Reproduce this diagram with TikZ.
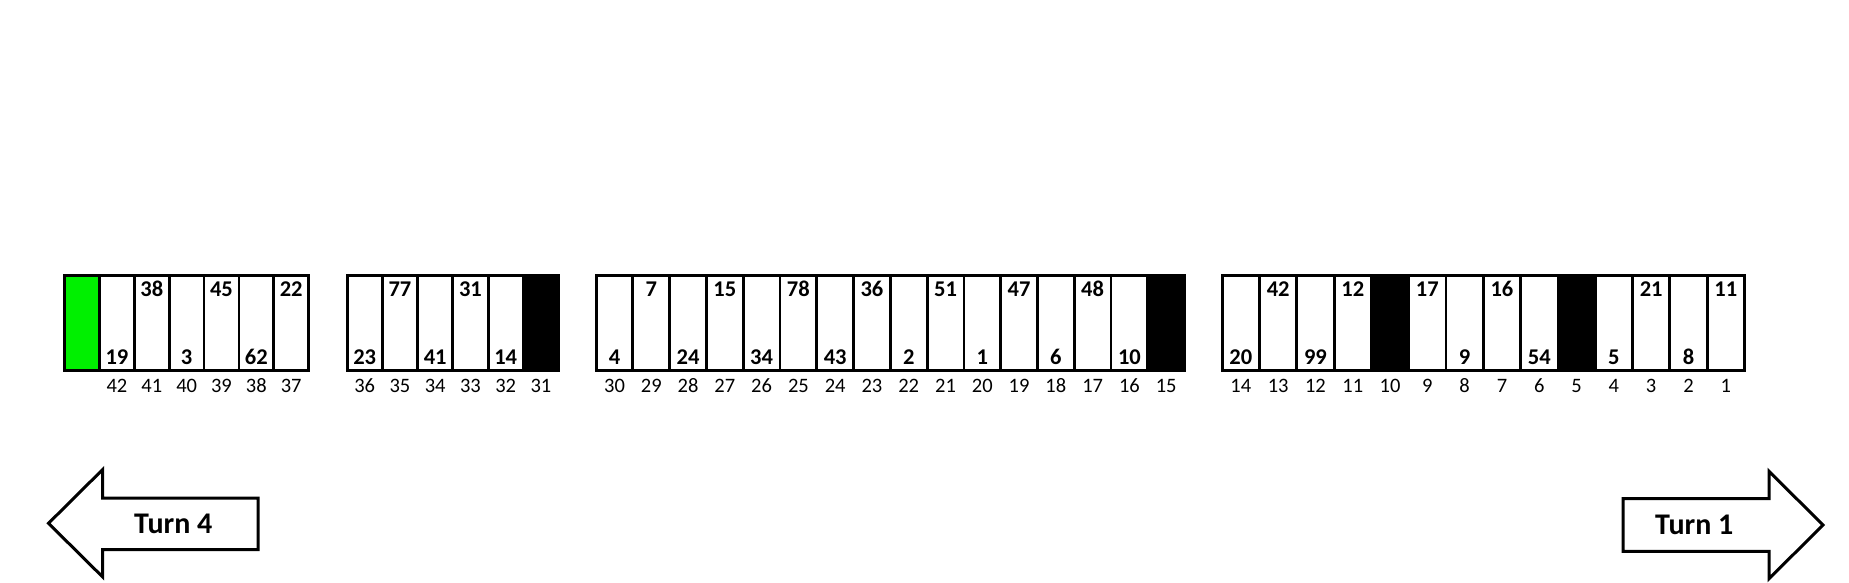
\documentclass[tikz,border=0pt]{standalone}
\usepackage{fontspec}
\setmainfont{Carlito}
\definecolor{pitgreen}{RGB}{0,240,0}
\begin{document}
\begin{tikzpicture}[x=1pt,y=-1pt,
  cell/.style={draw=black,line width=2.8pt},
  blackcell/.style={fill=black},
  greencell/.style={fill=pitgreen},
  num/.style={font=\bfseries\fontsize{22.5}{26}\selectfont,anchor=base,inner sep=0pt},
  lbl/.style={font=\fontsize{20.5}{24}\selectfont,anchor=base,inner sep=0pt},
  turn/.style={font=\bfseries\fontsize{30}{34}\selectfont,anchor=base,inner sep=0pt},
  arrowshape/.style={draw=black,line width=3pt,line join=miter,fill=white}]
\useasboundingbox (0,0) rectangle (1849,582);
\def\myytop{275.4}
\def\myh{95.2}
\def\mytt{296.9}
\def\mytb{364.5}
\def\mytl{392}
% ---------- Group 1 ----------
\def\myxa{64.7}\def\mywa{34.84}
\fill[greencell] (\myxa,\myytop) rectangle ++(\mywa,\myh);
\foreach \i in {0,...,6} \draw[cell] ({\myxa+\i*\mywa},\myytop) rectangle ++(\mywa,\myh);
\foreach \c/\v/\yy in {1/19/\mytb,2/38/\mytt,3/3/\mytb,4/45/\mytt,5/62/\mytb,6/22/\mytt}
  \node[num] (n\v) at ({\myxa+(\c+0.5)*\mywa},\yy) {\v};
\foreach \lab [count=\c from 1] in {42,41,...,37}
  \node[lbl] (p\lab) at ({\myxa+(\c+0.5)*\mywa},\mytl) {\lab};
% ---------- Group 2 ----------
\def\myxb{347.1}\def\mywb{35.25}
\fill[blackcell] ({\myxb+5*\mywb},\myytop) rectangle ++(\mywb,\myh);
\foreach \i in {0,...,5} \draw[cell] ({\myxb+\i*\mywb},\myytop) rectangle ++(\mywb,\myh);
\foreach \c/\v/\yy in {0/23/\mytb,1/77/\mytt,2/41/\mytb,3/31/\mytt,4/14/\mytb}
  \node[num] (n\v) at ({\myxb+(\c+0.5)*\mywb},\yy) {\v};
\foreach \lab [count=\c from 0] in {36,35,...,31}
  \node[lbl] (p\lab) at ({\myxb+(\c+0.5)*\mywb},\mytl) {\lab};
% ---------- Group 3 ----------
\def\myxc{596.1}\def\mywc{36.78}
\fill[blackcell] ({\myxc+15*\mywc},\myytop) rectangle ++(\mywc,\myh);
\foreach \i in {0,...,15} \draw[cell] ({\myxc+\i*\mywc},\myytop) rectangle ++(\mywc,\myh);
\foreach \c/\v/\yy in {0/4/\mytb,1/7/\mytt,2/24/\mytb,3/15/\mytt,4/34/\mytb,5/78/\mytt,6/43/\mytb,7/36/\mytt,8/2/\mytb,9/51/\mytt,10/1/\mytb,11/47/\mytt,12/6/\mytb,13/48/\mytt,14/10/\mytb}
  \node[num] (n\v) at ({\myxc+(\c+0.5)*\mywc},\yy) {\v};
\foreach \lab [count=\c from 0] in {30,29,...,15}
  \node[lbl] (p\lab) at ({\myxc+(\c+0.5)*\mywc},\mytl) {\lab};
% ---------- Group 4 ----------
\def\myxd{1222.2}\def\mywd{37.3}
\fill[blackcell] ({\myxd+4*\mywd},\myytop) rectangle ++(\mywd,\myh);
\fill[blackcell] ({\myxd+9*\mywd},\myytop) rectangle ++(\mywd,\myh);
\foreach \i in {0,...,13} \draw[cell] ({\myxd+\i*\mywd},\myytop) rectangle ++(\mywd,\myh);
\foreach \c/\v/\yy in {0/20/\mytb,1/42/\mytt,2/99/\mytb,3/12/\mytt,5/17/\mytt,6/9/\mytb,7/16/\mytt,8/54/\mytb,10/5/\mytb,11/21/\mytt,12/8/\mytb,13/11/\mytt}
  \node[num] (n\v) at ({\myxd+(\c+0.5)*\mywd},\yy) {\v};
\foreach \lab [count=\c from 0] in {14,13,...,1}
  \node[lbl] (p\lab) at ({\myxd+(\c+0.5)*\mywd},\mytl) {\lab};
% ---------- Turn arrows ----------
\draw[arrowshape] (48.5,523.3) -- (102.7,469.5) -- (102.7,498) -- (258,498)
  -- (258,549.5) -- (102.7,549.5) -- (102.7,577) -- cycle;
\node[turn] (turnfour) at (173.3,533) {Turn 4};
\draw[arrowshape] (1823,525) -- (1769,471.3) -- (1769,498.6) -- (1623,498.6)
  -- (1623,551.4) -- (1769,551.4) -- (1769,578.7) -- cycle;
\node[turn] (turnone) at (1694.3,534.5) {Turn 1};
\end{tikzpicture}
\end{document}
